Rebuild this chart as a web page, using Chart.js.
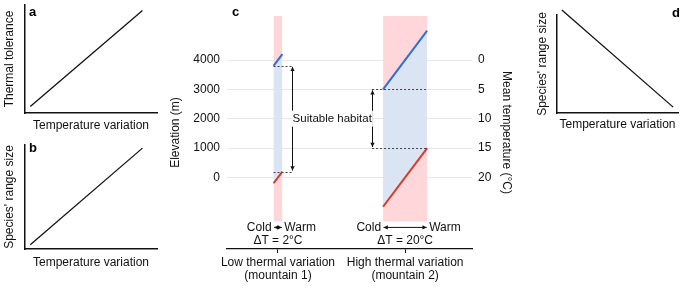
<!DOCTYPE html>
<html lang="en">
<head>
<meta charset="UTF-8" />
<title>Thermal variation, tolerance and range size</title>
<script src="https://cdn.jsdelivr.net/npm/chart.js"></script>
<style>
  body { margin: 0; background: #fff; }
  .wrap { position: relative; width: 685px; height: 288px; overflow: hidden; }
  canvas { position: absolute; }
</style>
</head>
<body>
<div class="wrap">
  <canvas id="chartA" width="165" height="140" style="left:0;top:0"></canvas>
  <canvas id="chartB" width="165" height="140" style="left:0;top:140px"></canvas>
  <canvas id="chartC" width="360" height="288" style="left:160px;top:0"></canvas>
  <canvas id="chartD" width="165" height="140" style="left:520px;top:0"></canvas>
</div>
<script>
// panels a, b, d: schematic trends (both axes 0..1)
const trendX = [0.04, 0.89];
const toleranceY = [0.06, 0.95];
const rangeSizeY = [0.04, 0.97];
const declineX = [0.04, 0.96];
const declineY = [1.05, 0.06];

// panel c: two mountains
const mountainLabels = [['Low thermal variation', '(mountain 1)'], ['High thermal variation', '(mountain 2)']];
const deltaT = [2, 20];
const upperLimit = [[3800, 4200], [3000, 5000]];   // elevation (m), cold side / warm side
const lowerLimit = [[-200, 200], [-1000, 1000]];
const suitableHabitat = [[200, 3800], [1000, 3000]];
const elevationTicks = [0, 1000, 2000, 3000, 4000];
const temperatureTicks = [0, 5, 10, 15, 20];
const bandRange = [-1500, 5500];

// layout only
const mountainX = [2.08, 7.27];
const mountainHalfWidth = [0.18, 0.9];
const elevMin = -2440, elevMax = 5500;

// 20 °C at sea level, 5 °C colder per 1000 m
const toTemp = e => 20 - e / 200;

const PINK = '#ffd6da', BLUE_FILL = '#dbe4f3', BLUE = '#2f6fd0', RED = '#d8382a';

Chart.defaults.font.family = '"Liberation Sans", Arial, sans-serif';
Chart.defaults.font.size = 12;
Chart.defaults.color = '#111';

function letterPlugin(letter, x, y) {
  return {
    id: 'letter',
    afterDraw(chart) {
      const ctx = chart.ctx;
      ctx.save();
      ctx.font = 'bold 13px "Liberation Sans", Arial, sans-serif';
      ctx.fillStyle = '#000';
      ctx.textAlign = 'left';
      ctx.textBaseline = 'middle';
      ctx.fillText(letter, x, y);
      ctx.restore();
    }
  };
}

function trendChart(id, xs, ys, yTitle, letter, box) {
  return new Chart(document.getElementById(id), {
    type: 'line',
    data: {
      datasets: [{
        data: xs.map((v, i) => ({ x: v, y: ys[i] })),
        borderColor: '#111',
        borderWidth: 1.3,
        pointRadius: 0,
        clip: false
      }]
    },
    options: {
      responsive: false,
      animation: false,
      events: [],
      layout: { padding: box.pad },
      plugins: { legend: { display: false }, tooltip: { enabled: false } },
      scales: {
        x: {
          type: 'linear', min: 0, max: 1,
          ticks: { display: false },
          grid: { display: false, drawTicks: false },
          border: { color: '#111', width: 1.5 },
          title: { display: true, text: 'Temperature variation', padding: { top: 0, bottom: box.xPad } },
          afterFit: s => { s.height = box.xH; }
        },
        y: {
          type: 'linear', min: 0, max: 1,
          ticks: { display: false },
          grid: { display: false, drawTicks: false },
          border: { color: '#111', width: 1.5 },
          title: { display: true, text: yTitle, padding: { top: box.yPad, bottom: 0 } },
          afterFit: s => { s.width = box.yW; }
        }
      }
    },
    plugins: [letterPlugin(letter, box.letter[0], box.letter[1])]
  });
}

trendChart('chartA', trendX, toleranceY, 'Thermal tolerance', 'a',
  { pad: { left: 0, top: 5, right: 8, bottom: 0 }, yW: 25, yPad: 2, xH: 27, xPad: 7, letter: [29, 12] });
trendChart('chartB', trendX, rangeSizeY, "Species' range size", 'b',
  { pad: { left: 0, top: 5, right: 8, bottom: 0 }, yW: 25, yPad: 2, xH: 31, xPad: 10, letter: [29, 8] });
trendChart('chartD', declineX, declineY, "Species' range size", 'd',
  { pad: { left: 11, top: 15, right: 7, bottom: 0 }, yW: 26, yPad: 4, xH: 27, xPad: 8, letter: [152, 13] });

// panel c datasets: pink band, blue suitable zone between upper and lower limits
const datasets = [];
mountainX.forEach((c, i) => {
  const x0 = c - mountainHalfWidth[i], x1 = c + mountainHalfWidth[i];
  datasets.push({
    data: [{ x: x0, y: bandRange[1] }, { x: x1, y: bandRange[1] }],
    borderWidth: 0, pointRadius: 0, backgroundColor: PINK,
    fill: { value: bandRange[0] }, order: 3
  });
  datasets.push({
    data: [{ x: x0, y: upperLimit[i][0] }, { x: x1, y: upperLimit[i][1] }],
    borderColor: BLUE, borderWidth: 2, pointRadius: 0, backgroundColor: BLUE_FILL,
    fill: '+1', order: 2
  });
  datasets.push({
    data: [{ x: x0, y: lowerLimit[i][0] }, { x: x1, y: lowerLimit[i][1] }],
    borderColor: RED, borderWidth: 2, pointRadius: 0, fill: false, order: 1
  });
});

function arrowHead(ctx, x, y, dx, dy) {
  const s = 3;
  ctx.beginPath();
  ctx.moveTo(x, y);
  ctx.lineTo(x - dx * s * 1.4 - dy * s * 0.7, y - dy * s * 1.4 - dx * s * 0.7);
  ctx.lineTo(x - dx * s * 1.4 + dy * s * 0.7, y - dy * s * 1.4 + dx * s * 0.7);
  ctx.closePath();
  ctx.fill();
}

function doubleArrow(ctx, xa, ya, xb, yb) {
  const len = Math.hypot(xb - xa, yb - ya);
  const dx = (xb - xa) / len, dy = (yb - ya) / len;
  ctx.beginPath();
  ctx.moveTo(xa, ya);
  ctx.lineTo(xb, yb);
  ctx.stroke();
  arrowHead(ctx, xb, yb, dx, dy);
  arrowHead(ctx, xa, ya, -dx, -dy);
}

const mountainNotes = {
  id: 'mountainNotes',
  afterDatasetsDraw(chart) {
    const { ctx, scales: { x, y } } = chart;
    ctx.save();
    ctx.fillStyle = '#111';
    ctx.strokeStyle = '#111';
    ctx.lineWidth = 1;
    ctx.font = '12px "Liberation Sans", Arial, sans-serif';
    const bandBottom = y.getPixelForValue(bandRange[0]);
    const edges = mountainX.map((c, i) => [x.getPixelForValue(c - mountainHalfWidth[i]), x.getPixelForValue(c + mountainHalfWidth[i])]);

    // Cold <-> Warm and delta T under each band
    edges.forEach(([x0, x1], i) => {
      const cy = bandBottom + 6;
      doubleArrow(ctx, x0 + 0.5, cy, x1 - 0.5, cy);
      ctx.textBaseline = 'middle';
      ctx.textAlign = 'right';
      ctx.fillText('Cold', x0 - 2, cy);
      ctx.textAlign = 'left';
      ctx.fillText('Warm', x1 + 2, cy);
      ctx.textAlign = 'center';
      ctx.fillText('\u0394T = ' + deltaT[i] + '\u00b0C', (x0 + x1) / 2, cy + 13);
    });

    // suitable habitat markers
    const arrowX = [edges[0][1] + 10, edges[1][0] - 11];
    ctx.save();
    ctx.strokeStyle = '#444';
    ctx.setLineDash([2, 2]);
    suitableHabitat.forEach(([lo, hi], i) => {
      const from = i === 0 ? edges[0][0] : arrowX[1];
      const to = i === 0 ? arrowX[0] : edges[1][1];
      [lo, hi].forEach(v => {
        const py = Math.round(y.getPixelForValue(v)) + 0.5;
        ctx.beginPath();
        ctx.moveTo(from, py);
        ctx.lineTo(to, py);
        ctx.stroke();
      });
    });
    ctx.restore();
    suitableHabitat.forEach(([lo, hi], i) => {
      const ax = Math.round(arrowX[i]) + 0.5;
      doubleArrow(ctx, ax, y.getPixelForValue(hi) + 1, ax, y.getPixelForValue(lo) - 1);
    });

    const label = 'Suitable habitat';
    const lx = (arrowX[0] + arrowX[1]) / 2;
    const ly = y.getPixelForValue((suitableHabitat[1][0] + suitableHabitat[1][1]) / 2);
    ctx.font = '11.5px "Liberation Sans", Arial, sans-serif';
    const w = ctx.measureText(label).width;
    ctx.fillStyle = '#fff';
    ctx.fillRect(lx - w / 2 - 1, ly - 8, w + 2, 16);
    ctx.fillStyle = '#111';
    ctx.textAlign = 'center';
    ctx.textBaseline = 'middle';
    ctx.fillText(label, lx, ly);

    ctx.font = 'bold 13px "Liberation Sans", Arial, sans-serif';
    ctx.textAlign = 'left';
    ctx.fillStyle = '#000';
    ctx.fillText('c', 72, 12);
    ctx.restore();
  }
};

new Chart(document.getElementById('chartC'), {
  type: 'line',
  data: { datasets },
  options: {
    responsive: false,
    animation: false,
    events: [],
    layout: { padding: { top: 16, left: 0, right: 0, bottom: 0 } },
    plugins: { legend: { display: false }, tooltip: { enabled: false } },
    scales: {
      x: {
        type: 'linear', min: 0, max: 10,
        afterBuildTicks: s => { s.ticks = mountainX.map(v => ({ value: v })); },
        ticks: {
          callback: (v, i) => mountainLabels[i],
          padding: 3, maxRotation: 0, autoSkip: false,
          font: { size: 12, lineHeight: 1.1 }
        },
        grid: { drawOnChartArea: false, tickLength: 4, tickColor: '#111', color: '#111' },
        border: { color: '#111', width: 1.3 },
        afterFit: s => { s.height = 39; }
      },
      y: {
        position: 'left', min: elevMin, max: elevMax,
        afterBuildTicks: s => { s.ticks = elevationTicks.map(v => ({ value: v })); },
        ticks: { padding: 7, callback: v => String(v) },
        grid: { color: '#e6e6e6', drawTicks: false },
        border: { display: false },
        title: { display: true, text: 'Elevation (m)', padding: { top: 8, bottom: 0 } },
        afterFit: s => { s.width = 67; }
      },
      yT: {
        position: 'right', reverse: true, min: toTemp(elevMax), max: toTemp(elevMin),
        afterBuildTicks: s => { s.ticks = temperatureTicks.map(v => ({ value: v })); },
        ticks: { padding: 6, callback: v => String(v) },
        grid: { display: false, drawTicks: false },
        border: { display: false },
        title: { display: true, text: 'Mean temperature (\u00b0C)', padding: { top: 6, bottom: 0 } },
        afterFit: s => { s.width = 48; }
      }
    }
  },
  plugins: [mountainNotes]
});
</script>
</body>
</html>
